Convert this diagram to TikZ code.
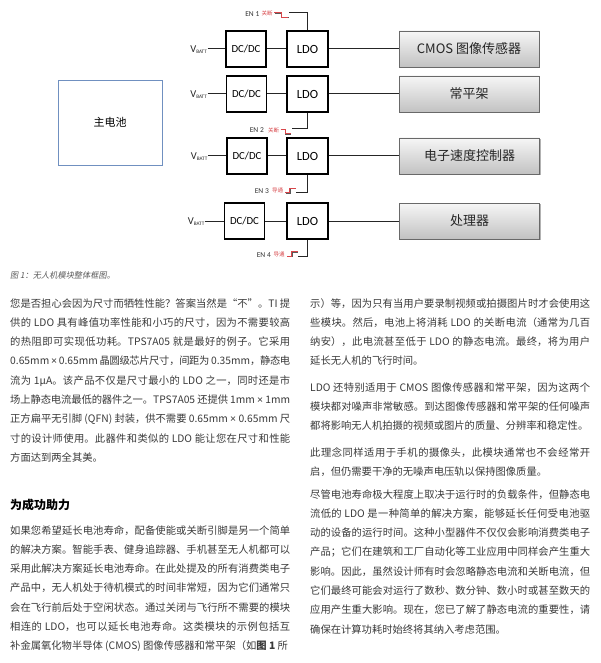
\documentclass[tikz,border=0pt]{standalone}
\usepackage{fontspec}
\setmainfont{Noto Sans CJK SC}
\newfontfamily\cjk{Noto Sans CJK SC}
\newfontfamily\cjkit[FakeSlant=0.18]{Noto Sans CJK SC}
\newfontfamily\diag{Carlito}
\newfontfamily\latf{Liberation Sans}
\newcommand\mul{{\latf ×}}
\usetikzlibrary{shadows}
\definecolor{bodytxt}{HTML}{3A3A3A}
\definecolor{capt}{HTML}{5A5A5A}
\definecolor{batt}{HTML}{7090C0}
\definecolor{enred}{HTML}{D8464A}
\definecolor{loadtop}{HTML}{F6F6F6}
\definecolor{loadbot}{HTML}{C2C2C2}
\newcommand\bodypara[1]{\parbox[t]{280pt}{\cjk\fontsize{10.3pt}{19.3pt}\selectfont
  \XeTeXlinebreaklocale "zh"\XeTeXlinebreakskip=0pt plus 1pt minus 0.6pt
  \tolerance=10000 \parindent=0pt \emergencystretch=0pt #1}}
\newcommand\vbatt{{\fontsize{10.5}{11}\selectfont V}\raisebox{-1.6pt}{\fontsize{5.2}{6}\selectfont BATT}}
\begin{document}
\begin{tikzpicture}[x=1pt,y=-1pt,
  blk/.style={draw=black,line width=1.1pt,fill=white,inner sep=0pt,minimum height=36pt},
  dcbox/.style={blk,minimum width=40pt,font=\diag\fontsize{10.8}{12}\selectfont},
  ldobox/.style={blk,minimum width=41pt,font=\diag\fontsize{12.5}{14}\selectfont},
  loadbox/.style={draw={rgb,255:red,105;green,105;blue,105},line width=0.8pt,
    top color=loadtop,bottom color=loadbot,minimum width=140pt,minimum height=36pt,
    inner sep=0pt,font=\cjk\fontsize{13}{15}\selectfont,text=black!85,
    drop shadow={shadow xshift=1pt,shadow yshift=-1.2pt,opacity=0.3,fill=black}},
  vlbl/.style={inner sep=0.5pt,font=\diag,text=black!85,anchor=east},
  conn/.style={draw=black!85,line width=1pt},
  enlbl/.style={inner sep=0pt,font=\diag\fontsize{7.5}{8}\selectfont,text=black!80},
  redlbl/.style={inner sep=0pt,font=\cjk\fontsize{5.5}{6}\selectfont,text=enred},
  wave/.style={draw=enred,line width=0.9pt},
  waveshadow/.style={draw=black!65,line width=0.7pt},
  txt/.style={inner sep=0pt,anchor=base west,text=bodytxt}]
\useasboundingbox (0,0) rectangle (600,663);
\fill[white] (0,0) rectangle (600,663);

% main battery
\node[draw=batt,line width=0.9pt,minimum width=104pt,minimum height=85pt,inner sep=0pt,
  font=\cjk\fontsize{11}{12}\selectfont] (bat) at (110,122.5) {主电池};

% row 1
\node[dcbox] (dc1) at (246,49) {DC/DC};
\node[ldobox] (ldo1) at (307.5,49) {LDO};
\node[loadbox] (cmos) at (469,49) {CMOS 图像传感器};
\node[vlbl] (vb1) at (207.5,49.5) {\vbatt};
\draw[conn] (vb1.east |- dc1.west) -- (dc1.west);
\draw[conn] (dc1) -- (ldo1);
\draw[conn] (ldo1) -- (cmos);

% row 2
\node[dcbox] (dc2) at (246.5,94) {DC/DC};
\node[ldobox] (ldo2) at (307.5,94) {LDO};
\node[loadbox] (gimbal) at (469,94) {常平架};
\node[vlbl] (vb2) at (207.5,94.5) {\vbatt};
\draw[conn] (vb2.east |- dc2.west) -- (dc2.west);
\draw[conn] (dc2) -- (ldo2);
\draw[conn] (ldo2) -- (gimbal);

% row 3
\node[dcbox] (dc3) at (247,156) {DC/DC};
\node[ldobox] (ldo3) at (307.5,156) {LDO};
\node[loadbox] (esc) at (469.5,156) {电子速度控制器};
\node[vlbl] (vb3) at (208,156.5) {\vbatt};
\draw[conn] (vb3.east |- dc3.west) -- (dc3.west);
\draw[conn] (dc3) -- (ldo3);
\draw[conn] (ldo3) -- (esc);

% row 4
\node[dcbox] (dc4) at (244.5,221) {DC/DC};
\node[ldobox] (ldo4) at (307.5,221) {LDO};
\node[loadbox] (cpu) at (469.5,221) {处理器};
\node[vlbl] (vb4) at (205,221.5) {\vbatt};
\draw[conn] (vb4.east |- dc4.west) -- (dc4.west);
\draw[conn] (dc4) -- (ldo4);
\draw[conn] (ldo4) -- (cpu);

% EN 1 (off)
\coordinate (en1) at (289,12.5);
\draw[conn] (ldo1.north) |- (en1);
\draw[waveshadow] (274.8,13.3) -- (281.8,13.3) -- (281.8,17.8) -- (288.8,17.8);
\draw[wave] (274,12.5) -- (281,12.5) -- (281,17) -- (288,17);
\node[redlbl] (en1r) at (267,13.3) {关断};
\node[enlbl,anchor=east] (en1t) at (259.5,14) {EN 1};

% EN 2 (off)
\coordinate (en2) at (291.5,129);
\draw[conn] (ldo2.south) |- (en2);
\draw[waveshadow] (281.3,129.8) -- (285.8,129.8) -- (285.8,134.3) -- (291.3,134.3);
\draw[wave] (280.5,129) -- (285,129) -- (285,133.5) -- (290.5,133.5);
\node[redlbl] (en2r) at (273.5,130) {关断};
\node[enlbl,anchor=east] (en2t) at (264,130.5) {EN 2};

% EN 3 (on)
\coordinate (en3) at (296,192.5);
\draw[conn] (ldo3.south) |- (en3);
\draw[waveshadow] (285.8,193.3) -- (290.3,193.3) -- (290.3,188.8) -- (296.3,188.8);
\draw[wave] (285,192.5) -- (289.5,192.5) -- (289.5,188) -- (295.5,188);
\node[redlbl] (en3r) at (277.5,190.5) {导通};
\node[enlbl,anchor=east] (en3t) at (269,191) {EN 3};

% EN 4 (on)
\coordinate (en4) at (297.5,256);
\draw[conn] (ldo4.south) |- (en4);
\draw[waveshadow] (287.8,256.8) -- (292.3,256.8) -- (292.3,252.3) -- (298.3,252.3);
\draw[wave] (287,256) -- (291.5,256) -- (291.5,251.5) -- (297.5,251.5);
\node[redlbl] (en4r) at (279,254) {导通};
\node[enlbl,anchor=east] (en4t) at (271,255) {EN 4};

% caption
\node[inner sep=0pt,anchor=base west,text=capt,font=\cjkit\fontsize{8.2}{9}\selectfont] (cap) at (10,278.2) {图 1：无人机模块整体框图。};

% left column
\node[txt] (p1) at (10,307) {\bodypara{%
您是否担心会因为尺寸而牺牲性能？答案当然是“不”。TI 提\linebreak
供的 LDO 具有峰值功率性能和小巧的尺寸，因为不需要较高\linebreak
的热阻即可实现低功耗。TPS7A05 就是最好的例子。它采用\linebreak
0.65mm \mul{} 0.65mm 晶圆级芯片尺寸，间距为 0.35mm，静态电\linebreak
流为 1μA。该产品不仅是尺寸最小的 LDO 之一，同时还是市\linebreak
场上静态电流最低的器件之一。TPS7A05 还提供 1mm \mul{} 1mm\linebreak
正方扁平无引脚 (QFN) 封装，供不需要 0.65mm \mul{} 0.65mm 尺\linebreak
寸的设计师使用。此器件和类似的 LDO 能让您在尺寸和性能\linebreak
方面达到两全其美。}};

\node[inner sep=0pt,anchor=base west,text=black,font=\cjk\bfseries\fontsize{12}{14}\selectfont] (head) at (10,509.6) {为成功助力};

\node[txt] (p2) at (10,534) {\bodypara{%
如果您希望延长电池寿命，配备使能或关断引脚是另一个简单\linebreak
的解决方案。智能手表、健身追踪器、手机甚至无人机都可以\linebreak
采用此解决方案延长电池寿命。在此处提及的所有消费类电子\linebreak
产品中，无人机处于待机模式的时间非常短，因为它们通常只\linebreak
会在飞行前后处于空闲状态。通过关闭与飞行所不需要的模块\linebreak
相连的 LDO，也可以延长电池寿命。这类模块的示例包括互\linebreak
补金属氧化物半导体 (CMOS) 图像传感器和常平架（如{\bfseries 图 1} 所}};

% right column
\node[txt] (p3) at (310,307) {\bodypara{%
示）等，因为只有当用户要录制视频或拍摄图片时才会使用这\linebreak
些模块。然后，电池上将消耗 LDO 的关断电流（通常为几百\linebreak
纳安），此电流甚至低于 LDO 的静态电流。最终，将为用户\linebreak
延长无人机的飞行时间。}};

\node[txt] (p4) at (310,391) {\bodypara{%
LDO 还特别适用于 CMOS 图像传感器和常平架，因为这两个\linebreak
模块都对噪声非常敏感。到达图像传感器和常平架的任何噪声\linebreak
都将影响无人机拍摄的视频或图片的质量、分辨率和稳定性。}};

\node[txt] (p5) at (310,456) {\bodypara{%
此理念同样适用于手机的摄像头，此模块通常也不会经常开\linebreak
启，但仍需要干净的无噪声电压轨以保持图像质量。}};

\node[txt] (p6) at (310,498) {\bodypara{%
尽管电池寿命极大程度上取决于运行时的负载条件，但静态电\linebreak
流低的 LDO 是一种简单的解决方案，能够延长任何受电池驱\linebreak
动的设备的运行时间。这种小型器件不仅仅会影响消费类电子\linebreak
产品；它们在建筑和工厂自动化等工业应用中同样会产生重大\linebreak
影响。因此，虽然设计师有时会忽略静态电流和关断电流，但\linebreak
它们最终可能会对运行了数秒、数分钟、数小时或甚至数天的\linebreak
应用产生重大影响。现在，您已了解了静态电流的重要性，请\linebreak
确保在计算功耗时始终将其纳入考虑范围。}};
\end{tikzpicture}
\end{document}
